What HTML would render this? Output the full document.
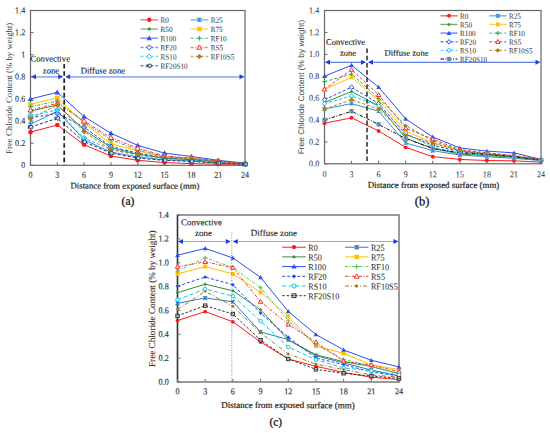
<!DOCTYPE html>
<html><head><meta charset="utf-8"><style>
html,body{margin:0;padding:0;background:#fff;}
body{width:550px;height:433px;overflow:hidden;}
svg{display:block;font-family:"Liberation Serif", serif;text-rendering:geometricPrecision;}
</style></head><body>
<svg width="550" height="433" viewBox="0 0 550 433" >
<rect width="550" height="433" fill="#fff"/>
<rect x="30.5" y="10.5" width="214.5" height="154.8" fill="none" stroke="#666" stroke-width="1.2"/>
<polyline points="30.5,132.13 57.31,124.94 84.12,144.73 110.94,156.01 137.75,160.32 164.56,162.54 191.38,163.64 218.19,164.19 245,164.19" fill="none" stroke="#ff1a1a" stroke-width="1.0"/>
<circle cx="30.5" cy="132.13" r="2.3" fill="#ff1a1a"/>
<circle cx="57.31" cy="124.94" r="2.3" fill="#ff1a1a"/>
<circle cx="84.12" cy="144.73" r="2.3" fill="#ff1a1a"/>
<circle cx="110.94" cy="156.01" r="2.3" fill="#ff1a1a"/>
<circle cx="137.75" cy="160.32" r="2.3" fill="#ff1a1a"/>
<circle cx="164.56" cy="162.54" r="2.3" fill="#ff1a1a"/>
<circle cx="191.38" cy="163.64" r="2.3" fill="#ff1a1a"/>
<circle cx="218.19" cy="164.19" r="2.3" fill="#ff1a1a"/>
<circle cx="245" cy="164.19" r="2.3" fill="#ff1a1a"/>
<polyline points="30.5,124.39 57.31,111.12 84.12,139.87 110.94,152.03 137.75,157.01 164.56,159.77 191.38,160.88 218.19,163.09 245,164.19" fill="none" stroke="#3a8ad2" stroke-width="1.0"/>
<path d="M28.3 122.19L32.7 126.59M32.7 122.19L28.3 126.59M30.5 122.19V126.59" stroke="#3a8ad2" stroke-width="1.1" fill="none"/>
<path d="M55.11 108.92L59.51 113.32M59.51 108.92L55.11 113.32M57.31 108.92V113.32" stroke="#3a8ad2" stroke-width="1.1" fill="none"/>
<path d="M81.92 137.67L86.33 142.07M86.33 137.67L81.92 142.07M84.12 137.67V142.07" stroke="#3a8ad2" stroke-width="1.1" fill="none"/>
<path d="M108.74 149.83L113.14 154.23M113.14 149.83L108.74 154.23M110.94 149.83V154.23" stroke="#3a8ad2" stroke-width="1.1" fill="none"/>
<path d="M135.55 154.81L139.95 159.21M139.95 154.81L135.55 159.21M137.75 154.81V159.21" stroke="#3a8ad2" stroke-width="1.1" fill="none"/>
<path d="M162.36 157.57L166.76 161.97M166.76 157.57L162.36 161.97M164.56 157.57V161.97" stroke="#3a8ad2" stroke-width="1.1" fill="none"/>
<path d="M189.18 158.68L193.57 163.08M193.57 158.68L189.18 163.08M191.38 158.68V163.08" stroke="#3a8ad2" stroke-width="1.1" fill="none"/>
<path d="M215.99 160.89L220.39 165.29M220.39 160.89L215.99 165.29M218.19 160.89V165.29" stroke="#3a8ad2" stroke-width="1.1" fill="none"/>
<path d="M242.8 161.99L247.2 166.39M247.2 161.99L242.8 166.39M245 161.99V166.39" stroke="#3a8ad2" stroke-width="1.1" fill="none"/>
<polyline points="30.5,111.12 57.31,105.04 84.12,129.92 110.94,147.61 137.75,154.24 164.56,158.11 191.38,159.77 218.19,161.98 245,163.97" fill="none" stroke="#3c8c3c" stroke-width="1.0"/>
<path d="M30.5 109.12L32.5 111.12L30.5 113.12L28.5 111.12Z" fill="#3c8c3c"/>
<path d="M57.31 103.04L59.31 105.04L57.31 107.04L55.31 105.04Z" fill="#3c8c3c"/>
<path d="M84.12 127.92L86.12 129.92L84.12 131.92L82.12 129.92Z" fill="#3c8c3c"/>
<path d="M110.94 145.61L112.94 147.61L110.94 149.61L108.94 147.61Z" fill="#3c8c3c"/>
<path d="M137.75 152.24L139.75 154.24L137.75 156.24L135.75 154.24Z" fill="#3c8c3c"/>
<path d="M164.56 156.11L166.56 158.11L164.56 160.11L162.56 158.11Z" fill="#3c8c3c"/>
<path d="M191.38 157.77L193.38 159.77L191.38 161.77L189.38 159.77Z" fill="#3c8c3c"/>
<path d="M218.19 159.98L220.19 161.98L218.19 163.98L216.19 161.98Z" fill="#3c8c3c"/>
<path d="M245 161.97L247 163.97L245 165.97L243 163.97Z" fill="#3c8c3c"/>
<polyline points="30.5,104.49 57.31,97.85 84.12,123.28 110.94,143.74 137.75,150.93 164.56,157.01 191.38,158.67 218.19,161.43 245,163.64" fill="none" stroke="#ffc000" stroke-width="1.0"/>
<rect x="28.2" y="102.19" width="4.6" height="4.6" fill="#ffc000"/>
<rect x="55.01" y="95.55" width="4.6" height="4.6" fill="#ffc000"/>
<rect x="81.83" y="120.98" width="4.6" height="4.6" fill="#ffc000"/>
<rect x="108.64" y="141.44" width="4.6" height="4.6" fill="#ffc000"/>
<rect x="135.45" y="148.63" width="4.6" height="4.6" fill="#ffc000"/>
<rect x="162.26" y="154.71" width="4.6" height="4.6" fill="#ffc000"/>
<rect x="189.07" y="156.37" width="4.6" height="4.6" fill="#ffc000"/>
<rect x="215.89" y="159.13" width="4.6" height="4.6" fill="#ffc000"/>
<rect x="242.7" y="161.34" width="4.6" height="4.6" fill="#ffc000"/>
<polyline points="30.5,98.96 57.31,92.32 84.12,116.65 110.94,133.23 137.75,145.4 164.56,153.14 191.38,156.45 218.19,160.32 245,163.09" fill="none" stroke="#2a52ee" stroke-width="1.0"/>
<path d="M30.5 96.16L33.3 101.06L27.7 101.06Z" fill="#2a52ee"/>
<path d="M57.31 89.52L60.11 94.42L54.51 94.42Z" fill="#2a52ee"/>
<path d="M84.12 113.85L86.92 118.75L81.33 118.75Z" fill="#2a52ee"/>
<path d="M110.94 130.43L113.74 135.33L108.14 135.33Z" fill="#2a52ee"/>
<path d="M137.75 142.6L140.55 147.5L134.95 147.5Z" fill="#2a52ee"/>
<path d="M164.56 150.34L167.36 155.24L161.76 155.24Z" fill="#2a52ee"/>
<path d="M191.38 153.65L194.18 158.55L188.57 158.55Z" fill="#2a52ee"/>
<path d="M218.19 157.52L220.99 162.42L215.39 162.42Z" fill="#2a52ee"/>
<path d="M245 160.29L247.8 165.19L242.2 165.19Z" fill="#2a52ee"/>
<polyline points="30.5,106.7 57.31,101.17 84.12,122.18 110.94,139.87 137.75,149.82 164.56,156.45 191.38,158.67 218.19,161.43 245,163.64" fill="none" stroke="#2eb04a" stroke-width="1.0" stroke-dasharray="3 1.5 1 1.5"/>
<path d="M28.1 106.7H32.9M30.5 104.3V109.1" stroke="#2eb04a" stroke-width="1.1" fill="none"/>
<path d="M54.91 101.17H59.71M57.31 98.77V103.57" stroke="#2eb04a" stroke-width="1.1" fill="none"/>
<path d="M81.72 122.18H86.53M84.12 119.78V124.58" stroke="#2eb04a" stroke-width="1.1" fill="none"/>
<path d="M108.54 139.87H113.34M110.94 137.47V142.27" stroke="#2eb04a" stroke-width="1.1" fill="none"/>
<path d="M135.35 149.82H140.15M137.75 147.42V152.22" stroke="#2eb04a" stroke-width="1.1" fill="none"/>
<path d="M162.16 156.45H166.96M164.56 154.05V158.85" stroke="#2eb04a" stroke-width="1.1" fill="none"/>
<path d="M188.97 158.67H193.78M191.38 156.27V161.07" stroke="#2eb04a" stroke-width="1.1" fill="none"/>
<path d="M215.79 161.43H220.59M218.19 159.03V163.83" stroke="#2eb04a" stroke-width="1.1" fill="none"/>
<path d="M242.6 163.64H247.4M245 161.24V166.04" stroke="#2eb04a" stroke-width="1.1" fill="none"/>
<polyline points="30.5,117.75 57.31,113.33 84.12,127.15 110.94,146.5 137.75,153.14 164.56,157.56 191.38,159.77 218.19,161.98 245,163.97" fill="none" stroke="#2446ee" stroke-width="1.0" stroke-dasharray="3 2"/>
<path d="M30.5 115.15L33.1 117.75L30.5 120.35L27.9 117.75Z" fill="#9aaaf6" stroke="#2446ee" stroke-width="1"/>
<path d="M57.31 110.73L59.91 113.33L57.31 115.93L54.71 113.33Z" fill="#9aaaf6" stroke="#2446ee" stroke-width="1"/>
<path d="M84.12 124.55L86.72 127.15L84.12 129.75L81.53 127.15Z" fill="#9aaaf6" stroke="#2446ee" stroke-width="1"/>
<path d="M110.94 143.9L113.54 146.5L110.94 149.1L108.34 146.5Z" fill="#9aaaf6" stroke="#2446ee" stroke-width="1"/>
<path d="M137.75 150.54L140.35 153.14L137.75 155.74L135.15 153.14Z" fill="#9aaaf6" stroke="#2446ee" stroke-width="1"/>
<path d="M164.56 154.96L167.16 157.56L164.56 160.16L161.96 157.56Z" fill="#9aaaf6" stroke="#2446ee" stroke-width="1"/>
<path d="M191.38 157.17L193.97 159.77L191.38 162.37L188.78 159.77Z" fill="#9aaaf6" stroke="#2446ee" stroke-width="1"/>
<path d="M218.19 159.38L220.79 161.98L218.19 164.58L215.59 161.98Z" fill="#9aaaf6" stroke="#2446ee" stroke-width="1"/>
<path d="M245 161.37L247.6 163.97L245 166.57L242.4 163.97Z" fill="#9aaaf6" stroke="#2446ee" stroke-width="1"/>
<polyline points="30.5,110.01 57.31,103.38 84.12,121.07 110.94,137.66 137.75,148.16 164.56,155.9 191.38,158.11 218.19,160.88 245,163.64" fill="none" stroke="#ff2a2a" stroke-width="1.0" stroke-dasharray="3 1.5 1 1.5"/>
<path d="M30.5 107.41L33.1 111.96L27.9 111.96Z" fill="#fff" stroke="#ff2a2a" stroke-width="1"/>
<path d="M57.31 100.78L59.91 105.33L54.71 105.33Z" fill="#fff" stroke="#ff2a2a" stroke-width="1"/>
<path d="M84.12 118.47L86.72 123.02L81.53 123.02Z" fill="#fff" stroke="#ff2a2a" stroke-width="1"/>
<path d="M110.94 135.06L113.54 139.61L108.34 139.61Z" fill="#fff" stroke="#ff2a2a" stroke-width="1"/>
<path d="M137.75 145.56L140.35 150.11L135.15 150.11Z" fill="#fff" stroke="#ff2a2a" stroke-width="1"/>
<path d="M164.56 153.3L167.16 157.85L161.96 157.85Z" fill="#fff" stroke="#ff2a2a" stroke-width="1"/>
<path d="M191.38 155.51L193.97 160.06L188.78 160.06Z" fill="#fff" stroke="#ff2a2a" stroke-width="1"/>
<path d="M218.19 158.28L220.79 162.83L215.59 162.83Z" fill="#fff" stroke="#ff2a2a" stroke-width="1"/>
<path d="M245 161.04L247.6 165.59L242.4 165.59Z" fill="#fff" stroke="#ff2a2a" stroke-width="1"/>
<polyline points="30.5,115.54 57.31,110.01 84.12,138.21 110.94,149.27 137.75,155.35 164.56,158.67 191.38,160.32 218.19,162.54 245,163.97" fill="none" stroke="#10c4f4" stroke-width="1.0" stroke-dasharray="3 2"/>
<path d="M30.5 112.84L33.2 115.54L30.5 118.24L27.8 115.54Z" fill="#50d0f4" stroke="#10c4f4" stroke-width="1"/>
<path d="M57.31 107.31L60.01 110.01L57.31 112.71L54.61 110.01Z" fill="#50d0f4" stroke="#10c4f4" stroke-width="1"/>
<path d="M84.12 135.51L86.83 138.21L84.12 140.91L81.42 138.21Z" fill="#50d0f4" stroke="#10c4f4" stroke-width="1"/>
<path d="M110.94 146.57L113.64 149.27L110.94 151.97L108.24 149.27Z" fill="#50d0f4" stroke="#10c4f4" stroke-width="1"/>
<path d="M137.75 152.65L140.45 155.35L137.75 158.05L135.05 155.35Z" fill="#50d0f4" stroke="#10c4f4" stroke-width="1"/>
<path d="M164.56 155.97L167.26 158.67L164.56 161.37L161.86 158.67Z" fill="#50d0f4" stroke="#10c4f4" stroke-width="1"/>
<path d="M191.38 157.62L194.07 160.32L191.38 163.02L188.68 160.32Z" fill="#50d0f4" stroke="#10c4f4" stroke-width="1"/>
<path d="M218.19 159.84L220.89 162.54L218.19 165.24L215.49 162.54Z" fill="#50d0f4" stroke="#10c4f4" stroke-width="1"/>
<path d="M245 161.27L247.7 163.97L245 166.67L242.3 163.97Z" fill="#50d0f4" stroke="#10c4f4" stroke-width="1"/>
<polyline points="30.5,118.86 57.31,105.04 84.12,131.58 110.94,149.82 137.75,154.24 164.56,157.56 191.38,158.33 218.19,161.98 245,163.64" fill="none" stroke="#b07d12" stroke-width="1.0" stroke-dasharray="3 2"/>
<path d="M30.5 116.06L33.3 118.86L30.5 121.66L27.7 118.86Z" fill="#b07d12"/>
<path d="M57.31 102.24L60.11 105.04L57.31 107.84L54.51 105.04Z" fill="#b07d12"/>
<path d="M84.12 128.78L86.92 131.58L84.12 134.38L81.33 131.58Z" fill="#b07d12"/>
<path d="M110.94 147.02L113.74 149.82L110.94 152.62L108.14 149.82Z" fill="#b07d12"/>
<path d="M137.75 151.44L140.55 154.24L137.75 157.04L134.95 154.24Z" fill="#b07d12"/>
<path d="M164.56 154.76L167.36 157.56L164.56 160.36L161.76 157.56Z" fill="#b07d12"/>
<path d="M191.38 155.53L194.18 158.33L191.38 161.13L188.57 158.33Z" fill="#b07d12"/>
<path d="M218.19 159.18L220.99 161.98L218.19 164.78L215.39 161.98Z" fill="#b07d12"/>
<path d="M245 160.84L247.8 163.64L245 166.44L242.2 163.64Z" fill="#b07d12"/>
<polyline points="30.5,127.15 57.31,118.31 84.12,141.75 110.94,153.14 137.75,158.11 164.56,160.32 191.38,161.43 218.19,163.09 245,164.19" fill="none" stroke="#22386e" stroke-width="1.0" stroke-dasharray="3 2"/>
<circle cx="31.1" cy="127.15" r="1.9" fill="#c8d4f0" stroke="#22386e" stroke-width="0.9"/><path d="M28.3 125.25V129.05M28.3 127.15H29.3" stroke="#22386e" stroke-width="0.9" fill="none"/>
<circle cx="57.91" cy="118.31" r="1.9" fill="#c8d4f0" stroke="#22386e" stroke-width="0.9"/><path d="M55.11 116.41V120.21M55.11 118.31H56.11" stroke="#22386e" stroke-width="0.9" fill="none"/>
<circle cx="84.72" cy="141.75" r="1.9" fill="#c8d4f0" stroke="#22386e" stroke-width="0.9"/><path d="M81.92 139.85V143.65M81.92 141.75H82.92" stroke="#22386e" stroke-width="0.9" fill="none"/>
<circle cx="111.54" cy="153.14" r="1.9" fill="#c8d4f0" stroke="#22386e" stroke-width="0.9"/><path d="M108.74 151.24V155.04M108.74 153.14H109.74" stroke="#22386e" stroke-width="0.9" fill="none"/>
<circle cx="138.35" cy="158.11" r="1.9" fill="#c8d4f0" stroke="#22386e" stroke-width="0.9"/><path d="M135.55 156.21V160.01M135.55 158.11H136.55" stroke="#22386e" stroke-width="0.9" fill="none"/>
<circle cx="165.16" cy="160.32" r="1.9" fill="#c8d4f0" stroke="#22386e" stroke-width="0.9"/><path d="M162.36 158.42V162.22M162.36 160.32H163.36" stroke="#22386e" stroke-width="0.9" fill="none"/>
<circle cx="191.97" cy="161.43" r="1.9" fill="#c8d4f0" stroke="#22386e" stroke-width="0.9"/><path d="M189.18 159.53V163.33M189.18 161.43H190.18" stroke="#22386e" stroke-width="0.9" fill="none"/>
<circle cx="218.79" cy="163.09" r="1.9" fill="#c8d4f0" stroke="#22386e" stroke-width="0.9"/><path d="M215.99 161.19V164.99M215.99 163.09H216.99" stroke="#22386e" stroke-width="0.9" fill="none"/>
<circle cx="245.6" cy="164.19" r="1.9" fill="#c8d4f0" stroke="#22386e" stroke-width="0.9"/><path d="M242.8 162.29V166.09M242.8 164.19H243.8" stroke="#22386e" stroke-width="0.9" fill="none"/>
<path d="M30.5 165.3h3M30.5 143.19h3M30.5 121.07h3M30.5 98.96h3M30.5 76.84h3M30.5 54.73h3M30.5 32.61h3M30.5 10.5h3M30.5 165.3v-3M57.31 165.3v-3M84.12 165.3v-3M110.94 165.3v-3M137.75 165.3v-3M164.56 165.3v-3M191.38 165.3v-3M218.19 165.3v-3M245 165.3v-3" stroke="#666" stroke-width="1" fill="none"/>
<g font-size="8.1" fill="#333" stroke="#333" stroke-width="0.1"><text transform="matrix(1,0.002,0.004,1.1,25.2,165.3)" text-anchor="end" dominant-baseline="central">0</text><text transform="matrix(1,0.002,0.004,1.1,25.2,143.19)" text-anchor="end" dominant-baseline="central">0.2</text><text transform="matrix(1,0.002,0.004,1.1,25.2,121.07)" text-anchor="end" dominant-baseline="central">0.4</text><text transform="matrix(1,0.002,0.004,1.1,25.2,98.96)" text-anchor="end" dominant-baseline="central">0.6</text><text transform="matrix(1,0.002,0.004,1.1,25.2,76.84)" text-anchor="end" dominant-baseline="central">0.8</text><text transform="matrix(1,0.002,0.004,1.1,25.2,54.73)" text-anchor="end" dominant-baseline="central">1</text><text transform="matrix(1,0.002,0.004,1.1,25.2,32.61)" text-anchor="end" dominant-baseline="central">1.2</text><text transform="matrix(1,0.002,0.004,1.1,25.2,10.5)" text-anchor="end" dominant-baseline="central">1.4</text><text transform="matrix(1,0.002,0.004,1.1,30.5,175.1)" text-anchor="middle" dominant-baseline="central">0</text><text transform="matrix(1,0.002,0.004,1.1,57.31,175.1)" text-anchor="middle" dominant-baseline="central">3</text><text transform="matrix(1,0.002,0.004,1.1,84.12,175.1)" text-anchor="middle" dominant-baseline="central">6</text><text transform="matrix(1,0.002,0.004,1.1,110.94,175.1)" text-anchor="middle" dominant-baseline="central">9</text><text transform="matrix(1,0.002,0.004,1.1,137.75,175.1)" text-anchor="middle" dominant-baseline="central">12</text><text transform="matrix(1,0.002,0.004,1.1,164.56,175.1)" text-anchor="middle" dominant-baseline="central">15</text><text transform="matrix(1,0.002,0.004,1.1,191.38,175.1)" text-anchor="middle" dominant-baseline="central">18</text><text transform="matrix(1,0.002,0.004,1.1,218.19,175.1)" text-anchor="middle" dominant-baseline="central">21</text><text transform="matrix(1,0.002,0.004,1.1,245,175.1)" text-anchor="middle" dominant-baseline="central">24</text></g>
<text transform="translate(11.8,88.3) rotate(-90) skewX(0.25)" text-anchor="middle" font-size="8.8" fill="#3a3a3a" stroke="#3a3a3a" stroke-width="0">Free Chloride Content (% by weight)</text>
<text transform="matrix(1,0.002,0.004,1,135,188.7)" text-anchor="middle" font-size="8.7" fill="#222" stroke="#222" stroke-width="0.2">Distance from exposed surface (mm)</text>
<text transform="matrix(1,0.002,0.004,1,128,204.7)" text-anchor="middle" font-size="11.6" fill="#111" stroke="#111" stroke-width="0.28">(a)</text>
<line x1="64.2" y1="64" x2="64.2" y2="165.3" stroke="#222" stroke-width="1.7" stroke-dasharray="4.6 2.6"/>
<path d="M35.5 76.8H58.2M70.2 76.8H240" stroke="#9bb2f2" stroke-width="1.8" fill="none"/>
<path d="M31 76.8l5 -2.5v5ZM63.2 76.8l-5 -2.5v5ZM65.2 76.8l5 -2.5v5ZM244.5 76.8l-5 -2.5v5Z" fill="#1a3ce0"/>
<g font-size="8.7" fill="#222" stroke="#222" stroke-width="0.12" text-anchor="middle"><text transform="matrix(1,0.002,0.004,1,50.2,61.5)">Convective</text><text transform="matrix(1,0.002,0.004,1,51,73.5)">zone</text><text transform="matrix(1,0.002,0.004,1,102.9,73.5)">Diffuse zone</text></g>
<line x1="140.5" y1="19.8" x2="158" y2="19.8" stroke="#ff1a1a" stroke-width="1.5" stroke-opacity="0.6"/><circle cx="149.25" cy="19.8" r="2.18" fill="#ff1a1a"/><text transform="matrix(1,0.002,0.004,1.1,160.5,20.55)" dominant-baseline="central" font-size="7.2" fill="#333" stroke="#333" stroke-width="0">R0</text><line x1="140.5" y1="29" x2="158" y2="29" stroke="#3c8c3c" stroke-width="1.5" stroke-opacity="0.6"/><path d="M149.25 27.1L151.15 29L149.25 30.9L147.35 29Z" fill="#3c8c3c"/><text transform="matrix(1,0.002,0.004,1.1,160.5,29.75)" dominant-baseline="central" font-size="7.2" fill="#333" stroke="#333" stroke-width="0">R50</text><line x1="140.5" y1="38.2" x2="158" y2="38.2" stroke="#2a52ee" stroke-width="1.5" stroke-opacity="0.6"/><path d="M149.25 35.54L151.91 40.2L146.59 40.2Z" fill="#2a52ee"/><text transform="matrix(1,0.002,0.004,1.1,160.5,38.95)" dominant-baseline="central" font-size="7.2" fill="#333" stroke="#333" stroke-width="0">R100</text><line x1="140.5" y1="47.4" x2="158" y2="47.4" stroke="#2446ee" stroke-width="1.5" stroke-opacity="0.6" stroke-dasharray="3 2"/><path d="M149.25 44.93L151.72 47.4L149.25 49.87L146.78 47.4Z" fill="#fff" stroke="#2446ee" stroke-width="1"/><text transform="matrix(1,0.002,0.004,1.1,160.5,48.15)" dominant-baseline="central" font-size="7.2" fill="#333" stroke="#333" stroke-width="0">RF20</text><line x1="140.5" y1="56.6" x2="158" y2="56.6" stroke="#10c4f4" stroke-width="1.5" stroke-opacity="0.6" stroke-dasharray="3 2"/><path d="M149.25 54.13L151.72 56.6L149.25 59.07L146.78 56.6Z" fill="#fff" stroke="#10c4f4" stroke-width="1"/><text transform="matrix(1,0.002,0.004,1.1,160.5,57.35)" dominant-baseline="central" font-size="7.2" fill="#333" stroke="#333" stroke-width="0">RS10</text><line x1="140.5" y1="65.8" x2="158" y2="65.8" stroke="#22386e" stroke-width="1.5" stroke-opacity="0.6" stroke-dasharray="3 2"/><circle cx="149.85" cy="65.8" r="1.8" fill="#c8d4f0" stroke="#22386e" stroke-width="0.9"/><path d="M147.16 63.99V67.61M147.16 65.8H148.11" stroke="#22386e" stroke-width="0.9" fill="none"/><text transform="matrix(1,0.002,0.004,1.1,160.5,66.55)" dominant-baseline="central" font-size="7.2" fill="#333" stroke="#333" stroke-width="0">RF20S10</text><line x1="190.7" y1="19.8" x2="208.2" y2="19.8" stroke="#3a8ad2" stroke-width="1.5" stroke-opacity="0.6"/><path d="M197.36 17.71L201.54 21.89M201.54 17.71L197.36 21.89M199.45 17.71V21.89" stroke="#3a8ad2" stroke-width="1.1" fill="none"/><text transform="matrix(1,0.002,0.004,1.1,210.7,20.55)" dominant-baseline="central" font-size="7.2" fill="#333" stroke="#333" stroke-width="0">R25</text><line x1="190.7" y1="29" x2="208.2" y2="29" stroke="#ffc000" stroke-width="1.5" stroke-opacity="0.6"/><rect x="197.26" y="26.82" width="4.37" height="4.37" fill="#ffc000"/><text transform="matrix(1,0.002,0.004,1.1,210.7,29.75)" dominant-baseline="central" font-size="7.2" fill="#333" stroke="#333" stroke-width="0">R75</text><line x1="190.7" y1="38.2" x2="208.2" y2="38.2" stroke="#2eb04a" stroke-width="1.5" stroke-opacity="0.6" stroke-dasharray="3 1.5 1 1.5"/><path d="M197.17 38.2H201.73M199.45 35.92V40.48" stroke="#2eb04a" stroke-width="1.1" fill="none"/><text transform="matrix(1,0.002,0.004,1.1,210.7,38.95)" dominant-baseline="central" font-size="7.2" fill="#333" stroke="#333" stroke-width="0">RF10</text><line x1="190.7" y1="47.4" x2="208.2" y2="47.4" stroke="#ff2a2a" stroke-width="1.5" stroke-opacity="0.6" stroke-dasharray="3 1.5 1 1.5"/><path d="M199.45 44.93L201.92 49.25L196.98 49.25Z" fill="#fff" stroke="#ff2a2a" stroke-width="1"/><text transform="matrix(1,0.002,0.004,1.1,210.7,48.15)" dominant-baseline="central" font-size="7.2" fill="#333" stroke="#333" stroke-width="0">RS5</text><line x1="190.7" y1="56.6" x2="208.2" y2="56.6" stroke="#b07d12" stroke-width="1.5" stroke-opacity="0.6" stroke-dasharray="3 2"/><path d="M199.45 53.94L202.11 56.6L199.45 59.26L196.79 56.6Z" fill="#b07d12"/><text transform="matrix(1,0.002,0.004,1.1,210.7,57.35)" dominant-baseline="central" font-size="7.2" fill="#333" stroke="#333" stroke-width="0">RF10S5</text>
<rect x="324.5" y="10.5" width="216.5" height="153.3" fill="none" stroke="#666" stroke-width="1.2"/>
<polyline points="324.5,123.28 351.56,117.81 378.62,130.95 405.69,147.38 432.75,156.68 459.81,159.42 486.88,160.52 513.94,160.84 541,162.16" fill="none" stroke="#ff1a1a" stroke-width="1.0"/>
<circle cx="324.5" cy="123.28" r="1.95" fill="#ff1a1a"/>
<circle cx="351.56" cy="117.81" r="1.95" fill="#ff1a1a"/>
<circle cx="378.62" cy="130.95" r="1.95" fill="#ff1a1a"/>
<circle cx="405.69" cy="147.38" r="1.95" fill="#ff1a1a"/>
<circle cx="432.75" cy="156.68" r="1.95" fill="#ff1a1a"/>
<circle cx="459.81" cy="159.42" r="1.95" fill="#ff1a1a"/>
<circle cx="486.88" cy="160.52" r="1.95" fill="#ff1a1a"/>
<circle cx="513.94" cy="160.84" r="1.95" fill="#ff1a1a"/>
<circle cx="541" cy="162.16" r="1.95" fill="#ff1a1a"/>
<polyline points="324.5,109.05 351.56,103.57 378.62,111.24 405.69,143 432.75,150.66 459.81,155.04 486.88,156.68 513.94,158.33 541,160.52" fill="none" stroke="#3a8ad2" stroke-width="1.0"/>
<path d="M322.63 107.18L326.37 110.92M326.37 107.18L322.63 110.92M324.5 107.18V110.92" stroke="#3a8ad2" stroke-width="1.1" fill="none"/>
<path d="M349.69 101.7L353.43 105.44M353.43 101.7L349.69 105.44M351.56 101.7V105.44" stroke="#3a8ad2" stroke-width="1.1" fill="none"/>
<path d="M376.75 109.37L380.5 113.11M380.5 109.37L376.75 113.11M378.62 109.37V113.11" stroke="#3a8ad2" stroke-width="1.1" fill="none"/>
<path d="M403.82 141.12L407.56 144.87M407.56 141.12L403.82 144.87M405.69 141.12V144.87" stroke="#3a8ad2" stroke-width="1.1" fill="none"/>
<path d="M430.88 148.79L434.62 152.53M434.62 148.79L430.88 152.53M432.75 148.79V152.53" stroke="#3a8ad2" stroke-width="1.1" fill="none"/>
<path d="M457.94 153.17L461.68 156.91M461.68 153.17L457.94 156.91M459.81 153.17V156.91" stroke="#3a8ad2" stroke-width="1.1" fill="none"/>
<path d="M485 154.81L488.75 158.55M488.75 154.81L485 158.55M486.88 154.81V158.55" stroke="#3a8ad2" stroke-width="1.1" fill="none"/>
<path d="M512.07 156.46L515.81 160.2M515.81 156.46L512.07 160.2M513.94 156.46V160.2" stroke="#3a8ad2" stroke-width="1.1" fill="none"/>
<path d="M539.13 158.65L542.87 162.39M542.87 158.65L539.13 162.39M541 158.65V162.39" stroke="#3a8ad2" stroke-width="1.1" fill="none"/>
<polyline points="324.5,102.48 351.56,91.53 378.62,105.77 405.69,138.07 432.75,148.47 459.81,153.95 486.88,155.59 513.94,157.23 541,160.52" fill="none" stroke="#3c8c3c" stroke-width="1.0"/>
<path d="M324.5 100.78L326.2 102.48L324.5 104.18L322.8 102.48Z" fill="#3c8c3c"/>
<path d="M351.56 89.83L353.26 91.53L351.56 93.23L349.86 91.53Z" fill="#3c8c3c"/>
<path d="M378.62 104.06L380.32 105.77L378.62 107.47L376.93 105.77Z" fill="#3c8c3c"/>
<path d="M405.69 136.37L407.39 138.07L405.69 139.77L403.99 138.07Z" fill="#3c8c3c"/>
<path d="M432.75 146.77L434.45 148.47L432.75 150.17L431.05 148.47Z" fill="#3c8c3c"/>
<path d="M459.81 152.25L461.51 153.95L459.81 155.65L458.11 153.95Z" fill="#3c8c3c"/>
<path d="M486.88 153.89L488.57 155.59L486.88 157.29L485.18 155.59Z" fill="#3c8c3c"/>
<path d="M513.94 155.53L515.64 157.23L513.94 158.93L512.24 157.23Z" fill="#3c8c3c"/>
<path d="M541 158.82L542.7 160.52L541 162.22L539.3 160.52Z" fill="#3c8c3c"/>
<polyline points="324.5,89.34 351.56,77.3 378.62,100.29 405.69,130.95 432.75,143 459.81,150.66 486.88,153.95 513.94,156.14 541,159.97" fill="none" stroke="#ffc000" stroke-width="1.0"/>
<rect x="322.55" y="87.39" width="3.91" height="3.91" fill="#ffc000"/>
<rect x="349.61" y="75.34" width="3.91" height="3.91" fill="#ffc000"/>
<rect x="376.67" y="98.34" width="3.91" height="3.91" fill="#ffc000"/>
<rect x="403.73" y="129" width="3.91" height="3.91" fill="#ffc000"/>
<rect x="430.8" y="141.04" width="3.91" height="3.91" fill="#ffc000"/>
<rect x="457.86" y="148.71" width="3.91" height="3.91" fill="#ffc000"/>
<rect x="484.92" y="151.99" width="3.91" height="3.91" fill="#ffc000"/>
<rect x="511.98" y="154.18" width="3.91" height="3.91" fill="#ffc000"/>
<rect x="539.04" y="158.01" width="3.91" height="3.91" fill="#ffc000"/>
<polyline points="324.5,76.2 351.56,65.25 378.62,87.15 405.69,118.91 432.75,136.97 459.81,147.92 486.88,151.1 513.94,152.85 541,159.42" fill="none" stroke="#2a52ee" stroke-width="1.0"/>
<path d="M324.5 73.82L326.88 77.98L322.12 77.98Z" fill="#2a52ee"/>
<path d="M351.56 62.87L353.94 67.03L349.18 67.03Z" fill="#2a52ee"/>
<path d="M378.62 84.77L381 88.94L376.25 88.94Z" fill="#2a52ee"/>
<path d="M405.69 116.53L408.07 120.69L403.31 120.69Z" fill="#2a52ee"/>
<path d="M432.75 134.59L435.13 138.76L430.37 138.76Z" fill="#2a52ee"/>
<path d="M459.81 145.54L462.19 149.71L457.43 149.71Z" fill="#2a52ee"/>
<path d="M486.88 148.72L489.25 152.88L484.5 152.88Z" fill="#2a52ee"/>
<path d="M513.94 150.47L516.32 154.64L511.56 154.64Z" fill="#2a52ee"/>
<path d="M541 157.04L543.38 161.21L538.62 161.21Z" fill="#2a52ee"/>
<polyline points="324.5,81.67 351.56,74.01 378.62,98.1 405.69,125.48 432.75,140.81 459.81,150.66 486.88,153.4 513.94,156.14 541,159.97" fill="none" stroke="#2eb04a" stroke-width="1.0" stroke-dasharray="3 2"/>
<path d="M322.46 81.67H326.54M324.5 79.63V83.72" stroke="#2eb04a" stroke-width="1.1" fill="none"/>
<path d="M349.52 74.01H353.6M351.56 71.97V76.05" stroke="#2eb04a" stroke-width="1.1" fill="none"/>
<path d="M376.58 98.1H380.67M378.62 96.06V100.14" stroke="#2eb04a" stroke-width="1.1" fill="none"/>
<path d="M403.65 125.48H407.73M405.69 123.44V127.52" stroke="#2eb04a" stroke-width="1.1" fill="none"/>
<path d="M430.71 140.81H434.79M432.75 138.77V142.84" stroke="#2eb04a" stroke-width="1.1" fill="none"/>
<path d="M457.77 150.66H461.85M459.81 148.62V152.7" stroke="#2eb04a" stroke-width="1.1" fill="none"/>
<path d="M484.83 153.4H488.92M486.88 151.36V155.44" stroke="#2eb04a" stroke-width="1.1" fill="none"/>
<path d="M511.9 156.14H515.98M513.94 154.1V158.18" stroke="#2eb04a" stroke-width="1.1" fill="none"/>
<path d="M538.96 159.97H543.04M541 157.93V162.01" stroke="#2eb04a" stroke-width="1.1" fill="none"/>
<polyline points="324.5,99.74 351.56,87.15 378.62,103.57 405.69,134.24 432.75,145.19 459.81,151.75 486.88,153.95 513.94,156.68 541,159.97" fill="none" stroke="#2446ee" stroke-width="1.0" stroke-dasharray="3 2"/>
<path d="M324.5 97.53L326.71 99.74L324.5 101.95L322.29 99.74Z" fill="#fff" stroke="#2446ee" stroke-width="1"/>
<path d="M351.56 84.94L353.77 87.15L351.56 89.36L349.35 87.15Z" fill="#fff" stroke="#2446ee" stroke-width="1"/>
<path d="M378.62 101.36L380.83 103.57L378.62 105.78L376.42 103.57Z" fill="#fff" stroke="#2446ee" stroke-width="1"/>
<path d="M405.69 132.03L407.9 134.24L405.69 136.45L403.48 134.24Z" fill="#fff" stroke="#2446ee" stroke-width="1"/>
<path d="M432.75 142.97L434.96 145.19L432.75 147.4L430.54 145.19Z" fill="#fff" stroke="#2446ee" stroke-width="1"/>
<path d="M459.81 149.54L462.02 151.75L459.81 153.97L457.6 151.75Z" fill="#fff" stroke="#2446ee" stroke-width="1"/>
<path d="M486.88 151.74L489.08 153.95L486.88 156.16L484.67 153.95Z" fill="#fff" stroke="#2446ee" stroke-width="1"/>
<path d="M513.94 154.47L516.15 156.68L513.94 158.89L511.73 156.68Z" fill="#fff" stroke="#2446ee" stroke-width="1"/>
<path d="M541 157.76L543.21 159.97L541 162.18L538.79 159.97Z" fill="#fff" stroke="#2446ee" stroke-width="1"/>
<polyline points="324.5,89.34 351.56,69.63 378.62,94.81 405.69,128.21 432.75,139.16 459.81,149.56 486.88,152.85 513.94,155.59 541,159.42" fill="none" stroke="#ff2a2a" stroke-width="1.0" stroke-dasharray="3 2"/>
<path d="M324.5 87.13L326.71 91L322.29 91Z" fill="#fff" stroke="#ff2a2a" stroke-width="1"/>
<path d="M351.56 67.42L353.77 71.29L349.35 71.29Z" fill="#fff" stroke="#ff2a2a" stroke-width="1"/>
<path d="M378.62 92.61L380.83 96.47L376.42 96.47Z" fill="#fff" stroke="#ff2a2a" stroke-width="1"/>
<path d="M405.69 126L407.9 129.87L403.48 129.87Z" fill="#fff" stroke="#ff2a2a" stroke-width="1"/>
<path d="M432.75 136.95L434.96 140.82L430.54 140.82Z" fill="#fff" stroke="#ff2a2a" stroke-width="1"/>
<path d="M459.81 147.35L462.02 151.22L457.6 151.22Z" fill="#fff" stroke="#ff2a2a" stroke-width="1"/>
<path d="M486.88 150.64L489.08 154.51L484.67 154.51Z" fill="#fff" stroke="#ff2a2a" stroke-width="1"/>
<path d="M513.94 153.38L516.15 157.25L511.73 157.25Z" fill="#fff" stroke="#ff2a2a" stroke-width="1"/>
<path d="M541 157.21L543.21 161.08L538.79 161.08Z" fill="#fff" stroke="#ff2a2a" stroke-width="1"/>
<polyline points="324.5,103.57 351.56,95.91 378.62,105.77 405.69,133.14 432.75,147.38 459.81,152.85 486.88,155.04 513.94,157.23 541,160.52" fill="none" stroke="#10c4f4" stroke-width="1.0" stroke-dasharray="3 2"/>
<circle cx="324.5" cy="103.57" r="1.78" fill="#fff" stroke="#10c4f4" stroke-width="1"/>
<circle cx="351.56" cy="95.91" r="1.78" fill="#fff" stroke="#10c4f4" stroke-width="1"/>
<circle cx="378.62" cy="105.77" r="1.78" fill="#fff" stroke="#10c4f4" stroke-width="1"/>
<circle cx="405.69" cy="133.14" r="1.78" fill="#fff" stroke="#10c4f4" stroke-width="1"/>
<circle cx="432.75" cy="147.38" r="1.78" fill="#fff" stroke="#10c4f4" stroke-width="1"/>
<circle cx="459.81" cy="152.85" r="1.78" fill="#fff" stroke="#10c4f4" stroke-width="1"/>
<circle cx="486.88" cy="155.04" r="1.78" fill="#fff" stroke="#10c4f4" stroke-width="1"/>
<circle cx="513.94" cy="157.23" r="1.78" fill="#fff" stroke="#10c4f4" stroke-width="1"/>
<circle cx="541" cy="160.52" r="1.78" fill="#fff" stroke="#10c4f4" stroke-width="1"/>
<polyline points="324.5,109.05 351.56,99.74 378.62,109.05 405.69,135.33 432.75,143 459.81,150.66 486.88,154.38 513.94,156.57 541,159.42" fill="none" stroke="#b07d12" stroke-width="1.0" stroke-dasharray="3 2"/>
<path d="M324.5 106.67L326.88 109.05L324.5 111.43L322.12 109.05Z" fill="#b07d12"/>
<path d="M351.56 97.36L353.94 99.74L351.56 102.12L349.18 99.74Z" fill="#b07d12"/>
<path d="M378.62 106.67L381 109.05L378.62 111.43L376.25 109.05Z" fill="#b07d12"/>
<path d="M405.69 132.95L408.07 135.33L405.69 137.71L403.31 135.33Z" fill="#b07d12"/>
<path d="M432.75 140.62L435.13 143L432.75 145.38L430.37 143Z" fill="#b07d12"/>
<path d="M459.81 148.28L462.19 150.66L459.81 153.04L457.43 150.66Z" fill="#b07d12"/>
<path d="M486.88 152L489.25 154.38L486.88 156.76L484.5 154.38Z" fill="#b07d12"/>
<path d="M513.94 154.19L516.32 156.57L513.94 158.95L511.56 156.57Z" fill="#b07d12"/>
<path d="M541 157.04L543.38 159.42L541 161.8L538.62 159.42Z" fill="#b07d12"/>
<polyline points="324.5,120 351.56,111.24 378.62,124.38 405.69,138.62 432.75,148.47 459.81,152.85 486.88,154.49 513.94,156.68 541,159.97" fill="none" stroke="#111" stroke-width="1.0" stroke-dasharray="3.5 1.5 1 1.5"/>
<rect x="322.8" y="118.3" width="3.4" height="3.4" fill="#fff" stroke="#5aa0d0" stroke-width="1"/><path d="M325.4 118.9H323.6V120H325.4V121.1H323.6" stroke="#333" stroke-width="0.7" fill="none"/>
<rect x="349.86" y="109.54" width="3.4" height="3.4" fill="#fff" stroke="#5aa0d0" stroke-width="1"/><path d="M352.46 110.14H350.66V111.24H352.46V112.34H350.66" stroke="#333" stroke-width="0.7" fill="none"/>
<rect x="376.93" y="122.68" width="3.4" height="3.4" fill="#fff" stroke="#5aa0d0" stroke-width="1"/><path d="M379.52 123.28H377.73V124.38H379.52V125.48H377.73" stroke="#333" stroke-width="0.7" fill="none"/>
<rect x="403.99" y="136.92" width="3.4" height="3.4" fill="#fff" stroke="#5aa0d0" stroke-width="1"/><path d="M406.59 137.52H404.79V138.62H406.59V139.72H404.79" stroke="#333" stroke-width="0.7" fill="none"/>
<rect x="431.05" y="146.77" width="3.4" height="3.4" fill="#fff" stroke="#5aa0d0" stroke-width="1"/><path d="M433.65 147.37H431.85V148.47H433.65V149.57H431.85" stroke="#333" stroke-width="0.7" fill="none"/>
<rect x="458.11" y="151.15" width="3.4" height="3.4" fill="#fff" stroke="#5aa0d0" stroke-width="1"/><path d="M460.71 151.75H458.91V152.85H460.71V153.95H458.91" stroke="#333" stroke-width="0.7" fill="none"/>
<rect x="485.18" y="152.79" width="3.4" height="3.4" fill="#fff" stroke="#5aa0d0" stroke-width="1"/><path d="M487.77 153.39H485.98V154.49H487.77V155.59H485.98" stroke="#333" stroke-width="0.7" fill="none"/>
<rect x="512.24" y="154.98" width="3.4" height="3.4" fill="#fff" stroke="#5aa0d0" stroke-width="1"/><path d="M514.84 155.58H513.04V156.68H514.84V157.78H513.04" stroke="#333" stroke-width="0.7" fill="none"/>
<rect x="539.3" y="158.27" width="3.4" height="3.4" fill="#fff" stroke="#5aa0d0" stroke-width="1"/><path d="M541.9 158.87H540.1V159.97H541.9V161.07H540.1" stroke="#333" stroke-width="0.7" fill="none"/>
<path d="M324.5 163.8h3M324.5 141.9h3M324.5 120h3M324.5 98.1h3M324.5 76.2h3M324.5 54.3h3M324.5 32.4h3M324.5 10.5h3M324.5 163.8v-3M351.56 163.8v-3M378.62 163.8v-3M405.69 163.8v-3M432.75 163.8v-3M459.81 163.8v-3M486.88 163.8v-3M513.94 163.8v-3M541 163.8v-3" stroke="#666" stroke-width="1" fill="none"/>
<g font-size="8.1" fill="#333" stroke="#333" stroke-width="0.04"><text transform="matrix(1,0.002,0.004,1.1,319.2,163.8)" text-anchor="end" dominant-baseline="central">0.0</text><text transform="matrix(1,0.002,0.004,1.1,319.2,141.9)" text-anchor="end" dominant-baseline="central">0.2</text><text transform="matrix(1,0.002,0.004,1.1,319.2,120)" text-anchor="end" dominant-baseline="central">0.4</text><text transform="matrix(1,0.002,0.004,1.1,319.2,98.1)" text-anchor="end" dominant-baseline="central">0.6</text><text transform="matrix(1,0.002,0.004,1.1,319.2,76.2)" text-anchor="end" dominant-baseline="central">0.8</text><text transform="matrix(1,0.002,0.004,1.1,319.2,54.3)" text-anchor="end" dominant-baseline="central">1.0</text><text transform="matrix(1,0.002,0.004,1.1,319.2,32.4)" text-anchor="end" dominant-baseline="central">1.2</text><text transform="matrix(1,0.002,0.004,1.1,319.2,10.5)" text-anchor="end" dominant-baseline="central">1.4</text><text transform="matrix(1,0.002,0.004,1.1,324.5,174.4)" text-anchor="middle" dominant-baseline="central">0</text><text transform="matrix(1,0.002,0.004,1.1,351.56,174.4)" text-anchor="middle" dominant-baseline="central">3</text><text transform="matrix(1,0.002,0.004,1.1,378.62,174.4)" text-anchor="middle" dominant-baseline="central">6</text><text transform="matrix(1,0.002,0.004,1.1,405.69,174.4)" text-anchor="middle" dominant-baseline="central">9</text><text transform="matrix(1,0.002,0.004,1.1,432.75,174.4)" text-anchor="middle" dominant-baseline="central">12</text><text transform="matrix(1,0.002,0.004,1.1,459.81,174.4)" text-anchor="middle" dominant-baseline="central">15</text><text transform="matrix(1,0.002,0.004,1.1,486.88,174.4)" text-anchor="middle" dominant-baseline="central">18</text><text transform="matrix(1,0.002,0.004,1.1,513.94,174.4)" text-anchor="middle" dominant-baseline="central">21</text><text transform="matrix(1,0.002,0.004,1.1,541,174.4)" text-anchor="middle" dominant-baseline="central">24</text></g>
<text transform="translate(303.9,87.05) rotate(-90) skewX(0.25)" text-anchor="middle" font-size="8.32" fill="#444" stroke="#444" stroke-width="0" font-family="Liberation Sans, sans-serif">Free Chloride Content (% by weight)</text>
<text transform="matrix(1,0.002,0.004,1,433.5,188)" text-anchor="middle" font-size="8.9" fill="#222" stroke="#222" stroke-width="0.2">Distance from exposed surface (mm)</text>
<text transform="matrix(1,0.002,0.004,1,422,205.3)" text-anchor="middle" font-size="12.5" fill="#111" stroke="#111" stroke-width="0.28">(b)</text>
<line x1="367" y1="48.5" x2="367" y2="163.8" stroke="#333" stroke-width="1.6" stroke-dasharray="4.6 2.6"/>
<path d="M329.5 62.3H361M373 62.3H536" stroke="#3a5ce8" stroke-width="1.1" fill="none"/>
<path d="M325 62.3l5 -2.5v5ZM366 62.3l-5 -2.5v5ZM368 62.3l5 -2.5v5ZM540.5 62.3l-5 -2.5v5Z" fill="#1a3ce0"/>
<g font-size="8.6" fill="#222" stroke="#222" stroke-width="0.12" text-anchor="middle"><text transform="matrix(1,0.002,0.004,1,345.6,44.8)">Convective</text><text transform="matrix(1,0.002,0.004,1,348,55.8)">zone</text><text transform="matrix(1,0.002,0.004,1,406.5,55.8)">Diffuse zone</text></g>
<line x1="440.5" y1="15.8" x2="457.5" y2="15.8" stroke="#ff1a1a" stroke-width="1.4" stroke-opacity="0.7"/><circle cx="449" cy="15.8" r="1.95" fill="#ff1a1a"/><text transform="matrix(1,0.002,0.004,1.1,460,16.55)" dominant-baseline="central" font-size="7.2" fill="#333" stroke="#333" stroke-width="0">R0</text><line x1="440.5" y1="24.45" x2="457.5" y2="24.45" stroke="#3c8c3c" stroke-width="1.4" stroke-opacity="0.7"/><path d="M449 22.75L450.7 24.45L449 26.15L447.3 24.45Z" fill="#3c8c3c"/><text transform="matrix(1,0.002,0.004,1.1,460,25.2)" dominant-baseline="central" font-size="7.2" fill="#333" stroke="#333" stroke-width="0">R50</text><line x1="440.5" y1="33.1" x2="457.5" y2="33.1" stroke="#2a52ee" stroke-width="1.4" stroke-opacity="0.7"/><path d="M449 30.72L451.38 34.88L446.62 34.88Z" fill="#2a52ee"/><text transform="matrix(1,0.002,0.004,1.1,460,33.85)" dominant-baseline="central" font-size="7.2" fill="#333" stroke="#333" stroke-width="0">R100</text><line x1="440.5" y1="41.75" x2="457.5" y2="41.75" stroke="#2446ee" stroke-width="1.4" stroke-opacity="0.7" stroke-dasharray="3 2"/><path d="M449 39.54L451.21 41.75L449 43.96L446.79 41.75Z" fill="#fff" stroke="#2446ee" stroke-width="1"/><text transform="matrix(1,0.002,0.004,1.1,460,42.5)" dominant-baseline="central" font-size="7.2" fill="#333" stroke="#333" stroke-width="0">RF20</text><line x1="440.5" y1="50.4" x2="457.5" y2="50.4" stroke="#10c4f4" stroke-width="1.4" stroke-opacity="0.7" stroke-dasharray="3 2"/><circle cx="449" cy="50.4" r="1.78" fill="#fff" stroke="#10c4f4" stroke-width="1"/><text transform="matrix(1,0.002,0.004,1.1,460,51.15)" dominant-baseline="central" font-size="7.2" fill="#333" stroke="#333" stroke-width="0">RS10</text><line x1="440.5" y1="59.05" x2="457.5" y2="59.05" stroke="#111" stroke-width="1.4" stroke-opacity="0.7" stroke-dasharray="3.5 1.5 1 1.5"/><rect x="447.3" y="57.35" width="3.4" height="3.4" fill="#fff" stroke="#5aa0d0" stroke-width="1"/><path d="M449.9 57.95H448.1V59.05H449.9V60.15H448.1" stroke="#333" stroke-width="0.7" fill="none"/><text transform="matrix(1,0.002,0.004,1.1,460,59.8)" dominant-baseline="central" font-size="7.2" fill="#333" stroke="#333" stroke-width="0">RF20S10</text><line x1="489.3" y1="15.8" x2="506.4" y2="15.8" stroke="#3a8ad2" stroke-width="1.4" stroke-opacity="0.7"/><path d="M495.98 13.93L499.72 17.67M499.72 13.93L495.98 17.67M497.85 13.93V17.67" stroke="#3a8ad2" stroke-width="1.1" fill="none"/><text transform="matrix(1,0.002,0.004,1.1,508.9,16.55)" dominant-baseline="central" font-size="7.2" fill="#333" stroke="#333" stroke-width="0">R25</text><line x1="489.3" y1="24.45" x2="506.4" y2="24.45" stroke="#ffc000" stroke-width="1.4" stroke-opacity="0.7"/><rect x="495.9" y="22.5" width="3.91" height="3.91" fill="#ffc000"/><text transform="matrix(1,0.002,0.004,1.1,508.9,25.2)" dominant-baseline="central" font-size="7.2" fill="#333" stroke="#333" stroke-width="0">R75</text><line x1="489.3" y1="33.1" x2="506.4" y2="33.1" stroke="#2eb04a" stroke-width="1.4" stroke-opacity="0.7" stroke-dasharray="3 2"/><path d="M495.81 33.1H499.89M497.85 31.06V35.14" stroke="#2eb04a" stroke-width="1.1" fill="none"/><text transform="matrix(1,0.002,0.004,1.1,508.9,33.85)" dominant-baseline="central" font-size="7.2" fill="#333" stroke="#333" stroke-width="0">RF10</text><line x1="489.3" y1="41.75" x2="506.4" y2="41.75" stroke="#ff2a2a" stroke-width="1.4" stroke-opacity="0.7" stroke-dasharray="3 2"/><path d="M497.85 39.54L500.06 43.41L495.64 43.41Z" fill="#fff" stroke="#ff2a2a" stroke-width="1"/><text transform="matrix(1,0.002,0.004,1.1,508.9,42.5)" dominant-baseline="central" font-size="7.2" fill="#333" stroke="#333" stroke-width="0">RS5</text><line x1="489.3" y1="50.4" x2="506.4" y2="50.4" stroke="#b07d12" stroke-width="1.4" stroke-opacity="0.7" stroke-dasharray="3 2"/><path d="M497.85 48.02L500.23 50.4L497.85 52.78L495.47 50.4Z" fill="#b07d12"/><text transform="matrix(1,0.002,0.004,1.1,508.9,51.15)" dominant-baseline="central" font-size="7.2" fill="#333" stroke="#333" stroke-width="0">RF10S5</text>
<rect x="177.5" y="215" width="221.5" height="167" fill="none" stroke="#707070" stroke-width="1.4"/>
<line x1="177.5" y1="215" x2="177.5" y2="382" stroke="#333" stroke-width="1.4"/>
<polyline points="177.5,320.57 205.19,311.62 232.88,321.76 260.56,342.04 288.25,358.98 315.94,366.25 343.62,372.46 371.31,377.23 399,379.61" fill="none" stroke="#ff1a1a" stroke-width="1.0"/>
<circle cx="177.5" cy="320.57" r="1.87" fill="#ff1a1a"/>
<circle cx="205.19" cy="311.62" r="1.87" fill="#ff1a1a"/>
<circle cx="232.88" cy="321.76" r="1.87" fill="#ff1a1a"/>
<circle cx="260.56" cy="342.04" r="1.87" fill="#ff1a1a"/>
<circle cx="288.25" cy="358.98" r="1.87" fill="#ff1a1a"/>
<circle cx="315.94" cy="366.25" r="1.87" fill="#ff1a1a"/>
<circle cx="343.62" cy="372.46" r="1.87" fill="#ff1a1a"/>
<circle cx="371.31" cy="377.23" r="1.87" fill="#ff1a1a"/>
<circle cx="399" cy="379.61" r="1.87" fill="#ff1a1a"/>
<polyline points="177.5,303.39 205.19,297.9 232.88,301.84 260.56,331.9 288.25,339.65 315.94,355.76 343.62,362.91 371.31,370.07 399,376.04" fill="none" stroke="#2e78bc" stroke-width="1.0"/>
<path d="M175.63 301.52L179.37 305.26M179.37 301.52L175.63 305.26M177.5 301.52V305.26" stroke="#2e78bc" stroke-width="1.1" fill="none"/>
<path d="M203.32 296.03L207.06 299.77M207.06 296.03L203.32 299.77M205.19 296.03V299.77" stroke="#2e78bc" stroke-width="1.1" fill="none"/>
<path d="M231 299.97L234.75 303.71M234.75 299.97L231 303.71M232.88 299.97V303.71" stroke="#2e78bc" stroke-width="1.1" fill="none"/>
<path d="M258.69 330.03L262.43 333.77M262.43 330.03L258.69 333.77M260.56 330.03V333.77" stroke="#2e78bc" stroke-width="1.1" fill="none"/>
<path d="M286.38 337.78L290.12 341.52M290.12 337.78L286.38 341.52M288.25 337.78V341.52" stroke="#2e78bc" stroke-width="1.1" fill="none"/>
<path d="M314.07 353.89L317.81 357.63M317.81 353.89L314.07 357.63M315.94 353.89V357.63" stroke="#2e78bc" stroke-width="1.1" fill="none"/>
<path d="M341.75 361.04L345.5 364.78M345.5 361.04L341.75 364.78M343.62 361.04V364.78" stroke="#2e78bc" stroke-width="1.1" fill="none"/>
<path d="M369.44 368.2L373.18 371.94M373.18 368.2L369.44 371.94M371.31 368.2V371.94" stroke="#2e78bc" stroke-width="1.1" fill="none"/>
<path d="M397.13 374.17L400.87 377.91M400.87 374.17L397.13 377.91M399 374.17V377.91" stroke="#2e78bc" stroke-width="1.1" fill="none"/>
<polyline points="177.5,292.65 205.19,284.19 232.88,290.75 260.56,309.71 288.25,340.01 315.94,354.68 343.62,361.72 371.31,366.49 399,373.65" fill="none" stroke="#3c8c3c" stroke-width="1.0"/>
<path d="M177.5 290.95L179.2 292.65L177.5 294.35L175.8 292.65Z" fill="#3c8c3c"/>
<path d="M205.19 282.49L206.89 284.19L205.19 285.89L203.49 284.19Z" fill="#3c8c3c"/>
<path d="M232.88 289.05L234.57 290.75L232.88 292.45L231.18 290.75Z" fill="#3c8c3c"/>
<path d="M260.56 308.01L262.26 309.71L260.56 311.41L258.86 309.71Z" fill="#3c8c3c"/>
<path d="M288.25 338.31L289.95 340.01L288.25 341.71L286.55 340.01Z" fill="#3c8c3c"/>
<path d="M315.94 352.98L317.64 354.68L315.94 356.38L314.24 354.68Z" fill="#3c8c3c"/>
<path d="M343.62 360.02L345.32 361.72L343.62 363.42L341.93 361.72Z" fill="#3c8c3c"/>
<path d="M371.31 364.79L373.01 366.49L371.31 368.19L369.61 366.49Z" fill="#3c8c3c"/>
<path d="M399 371.95L400.7 373.65L399 375.35L397.3 373.65Z" fill="#3c8c3c"/>
<polyline points="177.5,273.93 205.19,266.65 232.88,273.93 260.56,292.3 288.25,316.27 315.94,345.98 343.62,353.37 371.31,364.94 399,369.59" fill="none" stroke="#ffc000" stroke-width="1.0"/>
<rect x="175.54" y="271.97" width="3.91" height="3.91" fill="#ffc000"/>
<rect x="203.23" y="264.7" width="3.91" height="3.91" fill="#ffc000"/>
<rect x="230.92" y="271.97" width="3.91" height="3.91" fill="#ffc000"/>
<rect x="258.61" y="290.34" width="3.91" height="3.91" fill="#ffc000"/>
<rect x="286.3" y="314.32" width="3.91" height="3.91" fill="#ffc000"/>
<rect x="313.98" y="344.02" width="3.91" height="3.91" fill="#ffc000"/>
<rect x="341.67" y="351.42" width="3.91" height="3.91" fill="#ffc000"/>
<rect x="369.36" y="362.99" width="3.91" height="3.91" fill="#ffc000"/>
<rect x="397.05" y="367.64" width="3.91" height="3.91" fill="#ffc000"/>
<polyline points="177.5,255.2 205.19,248.4 232.88,257.94 260.56,277.39 288.25,311.5 315.94,334.52 343.62,349.91 371.31,360.29 399,366.85" fill="none" stroke="#2a52ee" stroke-width="1.0"/>
<path d="M177.5 252.82L179.88 256.98L175.12 256.98Z" fill="#2a52ee"/>
<path d="M205.19 246.02L207.57 250.18L202.81 250.18Z" fill="#2a52ee"/>
<path d="M232.88 255.56L235.25 259.73L230.5 259.73Z" fill="#2a52ee"/>
<path d="M260.56 275.01L262.94 279.17L258.18 279.17Z" fill="#2a52ee"/>
<path d="M288.25 309.12L290.63 313.29L285.87 313.29Z" fill="#2a52ee"/>
<path d="M315.94 332.14L318.32 336.31L313.56 336.31Z" fill="#2a52ee"/>
<path d="M343.62 347.53L346 351.7L341.25 351.7Z" fill="#2a52ee"/>
<path d="M371.31 357.91L373.69 362.08L368.93 362.08Z" fill="#2a52ee"/>
<path d="M399 364.47L401.38 368.64L396.62 368.64Z" fill="#2a52ee"/>
<polyline points="177.5,271.18 205.19,257.7 232.88,267.49 260.56,287.76 288.25,320.69 315.94,345.02 343.62,359.34 371.31,366.49 399,373.65" fill="none" stroke="#5cc05c" stroke-width="1.0" stroke-dasharray="3 1.5 1 1.5"/>
<path d="M175.46 271.18H179.54M177.5 269.14V273.22" stroke="#5cc05c" stroke-width="1.1" fill="none"/>
<path d="M203.15 257.7H207.23M205.19 255.66V259.74" stroke="#5cc05c" stroke-width="1.1" fill="none"/>
<path d="M230.84 267.49H234.91M232.88 265.45V269.53" stroke="#5cc05c" stroke-width="1.1" fill="none"/>
<path d="M258.52 287.76H262.6M260.56 285.72V289.8" stroke="#5cc05c" stroke-width="1.1" fill="none"/>
<path d="M286.21 320.69H290.29M288.25 318.65V322.73" stroke="#5cc05c" stroke-width="1.1" fill="none"/>
<path d="M313.9 345.02H317.98M315.94 342.98V347.06" stroke="#5cc05c" stroke-width="1.1" fill="none"/>
<path d="M341.58 359.34H345.67M343.62 357.3V361.38" stroke="#5cc05c" stroke-width="1.1" fill="none"/>
<path d="M369.27 366.49H373.35M371.31 364.45V368.53" stroke="#5cc05c" stroke-width="1.1" fill="none"/>
<path d="M396.96 373.65H401.04M399 371.61V375.69" stroke="#5cc05c" stroke-width="1.1" fill="none"/>
<polyline points="177.5,286.21 205.19,277.03 232.88,284.78 260.56,313.05 288.25,337.15 315.94,358.14 343.62,364.58 371.31,371.86 399,376.04" fill="none" stroke="#2446ee" stroke-width="1.0" stroke-dasharray="3 2"/>
<path d="M177.5 284.34L179.37 286.21L177.5 288.08L175.63 286.21Z" fill="#2446ee"/>
<path d="M205.19 275.16L207.06 277.03L205.19 278.9L203.32 277.03Z" fill="#2446ee"/>
<path d="M232.88 282.91L234.75 284.78L232.88 286.65L231 284.78Z" fill="#2446ee"/>
<path d="M260.56 311.18L262.43 313.05L260.56 314.92L258.69 313.05Z" fill="#2446ee"/>
<path d="M288.25 335.28L290.12 337.15L288.25 339.02L286.38 337.15Z" fill="#2446ee"/>
<path d="M315.94 356.27L317.81 358.14L315.94 360.01L314.07 358.14Z" fill="#2446ee"/>
<path d="M343.62 362.71L345.5 364.58L343.62 366.45L341.75 364.58Z" fill="#2446ee"/>
<path d="M371.31 369.99L373.18 371.86L371.31 373.73L369.44 371.86Z" fill="#2446ee"/>
<path d="M399 374.17L400.87 376.04L399 377.91L397.13 376.04Z" fill="#2446ee"/>
<polyline points="177.5,266.65 205.19,261.88 232.88,267.61 260.56,301.6 288.25,324.38 315.94,342.16 343.62,361.24 371.31,364.94 399,371.74" fill="none" stroke="#ff2a2a" stroke-width="1.0" stroke-dasharray="3 1.5 1 1.5"/>
<path d="M177.5 264.44L179.71 268.31L175.29 268.31Z" fill="#fff" stroke="#ff2a2a" stroke-width="1"/>
<path d="M205.19 259.67L207.4 263.54L202.98 263.54Z" fill="#fff" stroke="#ff2a2a" stroke-width="1"/>
<path d="M232.88 265.4L235.09 269.26L230.66 269.26Z" fill="#fff" stroke="#ff2a2a" stroke-width="1"/>
<path d="M260.56 299.39L262.77 303.26L258.35 303.26Z" fill="#fff" stroke="#ff2a2a" stroke-width="1"/>
<path d="M288.25 322.18L290.46 326.04L286.04 326.04Z" fill="#fff" stroke="#ff2a2a" stroke-width="1"/>
<path d="M315.94 339.95L318.15 343.82L313.73 343.82Z" fill="#fff" stroke="#ff2a2a" stroke-width="1"/>
<path d="M343.62 359.03L345.83 362.9L341.42 362.9Z" fill="#fff" stroke="#ff2a2a" stroke-width="1"/>
<path d="M371.31 362.73L373.52 366.6L369.1 366.6Z" fill="#fff" stroke="#ff2a2a" stroke-width="1"/>
<path d="M399 369.53L401.21 373.4L396.79 373.4Z" fill="#fff" stroke="#ff2a2a" stroke-width="1"/>
<polyline points="177.5,299.69 205.19,288.96 232.88,296.11 260.56,321.16 288.25,347.05 315.94,359.69 343.62,367.92 371.31,370.67 399,374.84" fill="none" stroke="#10c4f4" stroke-width="1.0" stroke-dasharray="4 2.5"/>
<circle cx="177.5" cy="299.69" r="1.78" fill="#fff" stroke="#10c4f4" stroke-width="1"/>
<circle cx="205.19" cy="288.96" r="1.78" fill="#fff" stroke="#10c4f4" stroke-width="1"/>
<circle cx="232.88" cy="296.11" r="1.78" fill="#fff" stroke="#10c4f4" stroke-width="1"/>
<circle cx="260.56" cy="321.16" r="1.78" fill="#fff" stroke="#10c4f4" stroke-width="1"/>
<circle cx="288.25" cy="347.05" r="1.78" fill="#fff" stroke="#10c4f4" stroke-width="1"/>
<circle cx="315.94" cy="359.69" r="1.78" fill="#fff" stroke="#10c4f4" stroke-width="1"/>
<circle cx="343.62" cy="367.92" r="1.78" fill="#fff" stroke="#10c4f4" stroke-width="1"/>
<circle cx="371.31" cy="370.67" r="1.78" fill="#fff" stroke="#10c4f4" stroke-width="1"/>
<circle cx="399" cy="374.84" r="1.78" fill="#fff" stroke="#10c4f4" stroke-width="1"/>
<polyline points="177.5,309.59 205.19,291.34 232.88,306.25 260.56,332.85 288.25,353.97 315.94,364.11 343.62,369.59 371.31,374.84 399,377.23" fill="none" stroke="#9a7a20" stroke-width="1.0" stroke-dasharray="4 2 1 2"/>
<path d="M177.5 307.89L179.2 309.59L177.5 311.29L175.8 309.59Z" fill="#9a7a20"/>
<path d="M205.19 289.64L206.89 291.34L205.19 293.04L203.49 291.34Z" fill="#9a7a20"/>
<path d="M232.88 304.55L234.57 306.25L232.88 307.95L231.18 306.25Z" fill="#9a7a20"/>
<path d="M260.56 331.15L262.26 332.85L260.56 334.55L258.86 332.85Z" fill="#9a7a20"/>
<path d="M288.25 352.27L289.95 353.97L288.25 355.67L286.55 353.97Z" fill="#9a7a20"/>
<path d="M315.94 362.41L317.64 364.11L315.94 365.81L314.24 364.11Z" fill="#9a7a20"/>
<path d="M343.62 367.89L345.32 369.59L343.62 371.29L341.93 369.59Z" fill="#9a7a20"/>
<path d="M371.31 373.14L373.01 374.84L371.31 376.54L369.61 374.84Z" fill="#9a7a20"/>
<path d="M399 375.53L400.7 377.23L399 378.93L397.3 377.23Z" fill="#9a7a20"/>
<polyline points="177.5,315.92 205.19,305.66 232.88,314.01 260.56,340.13 288.25,358.98 315.94,369.36 343.62,373.29 371.31,376.04 399,378.42" fill="none" stroke="#333" stroke-width="1.0" stroke-dasharray="2.5 1.8"/>
<rect x="175.8" y="314.22" width="3.4" height="3.4" fill="#fff" stroke="#333" stroke-width="1"/><line x1="175.8" y1="315.92" x2="179.2" y2="315.92" stroke="#333" stroke-width="0.8"/>
<rect x="203.49" y="303.96" width="3.4" height="3.4" fill="#fff" stroke="#333" stroke-width="1"/><line x1="203.49" y1="305.66" x2="206.89" y2="305.66" stroke="#333" stroke-width="0.8"/>
<rect x="231.18" y="312.31" width="3.4" height="3.4" fill="#fff" stroke="#333" stroke-width="1"/><line x1="231.18" y1="314.01" x2="234.57" y2="314.01" stroke="#333" stroke-width="0.8"/>
<rect x="258.86" y="338.43" width="3.4" height="3.4" fill="#fff" stroke="#333" stroke-width="1"/><line x1="258.86" y1="340.13" x2="262.26" y2="340.13" stroke="#333" stroke-width="0.8"/>
<rect x="286.55" y="357.28" width="3.4" height="3.4" fill="#fff" stroke="#333" stroke-width="1"/><line x1="286.55" y1="358.98" x2="289.95" y2="358.98" stroke="#333" stroke-width="0.8"/>
<rect x="314.24" y="367.66" width="3.4" height="3.4" fill="#fff" stroke="#333" stroke-width="1"/><line x1="314.24" y1="369.36" x2="317.64" y2="369.36" stroke="#333" stroke-width="0.8"/>
<rect x="341.93" y="371.59" width="3.4" height="3.4" fill="#fff" stroke="#333" stroke-width="1"/><line x1="341.93" y1="373.29" x2="345.32" y2="373.29" stroke="#333" stroke-width="0.8"/>
<rect x="369.61" y="374.34" width="3.4" height="3.4" fill="#fff" stroke="#333" stroke-width="1"/><line x1="369.61" y1="376.04" x2="373.01" y2="376.04" stroke="#333" stroke-width="0.8"/>
<rect x="397.3" y="376.72" width="3.4" height="3.4" fill="#fff" stroke="#333" stroke-width="1"/><line x1="397.3" y1="378.42" x2="400.7" y2="378.42" stroke="#333" stroke-width="0.8"/>
<path d="M177.5 382h3M177.5 358.14h3M177.5 334.29h3M177.5 310.43h3M177.5 286.57h3M177.5 262.71h3M177.5 238.86h3M177.5 215h3M177.5 382v-3M205.19 382v-3M232.88 382v-3M260.56 382v-3M288.25 382v-3M315.94 382v-3M343.62 382v-3M371.31 382v-3M399 382v-3" stroke="#707070" stroke-width="1" fill="none"/>
<g font-size="8.1" fill="#333" stroke="#333" stroke-width="0.15"><text transform="matrix(1,0.002,0.004,1.1,168.7,382)" text-anchor="end" dominant-baseline="central">0.0</text><text transform="matrix(1,0.002,0.004,1.1,168.7,358.14)" text-anchor="end" dominant-baseline="central">0.2</text><text transform="matrix(1,0.002,0.004,1.1,168.7,334.29)" text-anchor="end" dominant-baseline="central">0.4</text><text transform="matrix(1,0.002,0.004,1.1,168.7,310.43)" text-anchor="end" dominant-baseline="central">0.6</text><text transform="matrix(1,0.002,0.004,1.1,168.7,286.57)" text-anchor="end" dominant-baseline="central">0.8</text><text transform="matrix(1,0.002,0.004,1.1,168.7,262.71)" text-anchor="end" dominant-baseline="central">1.0</text><text transform="matrix(1,0.002,0.004,1.1,168.7,238.86)" text-anchor="end" dominant-baseline="central">1.2</text><text transform="matrix(1,0.002,0.004,1.1,168.7,215)" text-anchor="end" dominant-baseline="central">1.4</text><text transform="matrix(1,0.002,0.004,1.1,177.5,391.6)" text-anchor="middle" dominant-baseline="central">0</text><text transform="matrix(1,0.002,0.004,1.1,205.19,391.6)" text-anchor="middle" dominant-baseline="central">3</text><text transform="matrix(1,0.002,0.004,1.1,232.88,391.6)" text-anchor="middle" dominant-baseline="central">6</text><text transform="matrix(1,0.002,0.004,1.1,260.56,391.6)" text-anchor="middle" dominant-baseline="central">9</text><text transform="matrix(1,0.002,0.004,1.1,288.25,391.6)" text-anchor="middle" dominant-baseline="central">12</text><text transform="matrix(1,0.002,0.004,1.1,315.94,391.6)" text-anchor="middle" dominant-baseline="central">15</text><text transform="matrix(1,0.002,0.004,1.1,343.62,391.6)" text-anchor="middle" dominant-baseline="central">18</text><text transform="matrix(1,0.002,0.004,1.1,371.31,391.6)" text-anchor="middle" dominant-baseline="central">21</text><text transform="matrix(1,0.002,0.004,1.1,399,391.6)" text-anchor="middle" dominant-baseline="central">24</text></g>
<text transform="translate(155,298.7) rotate(-90) skewX(0.25)" text-anchor="middle" font-size="9.17" fill="#333" stroke="#333" stroke-width="0.12">Free Chloride Content (% by weight)</text>
<text transform="matrix(1,0.002,0.004,1,288,408.1)" text-anchor="middle" font-size="9.0" fill="#222" stroke="#222" stroke-width="0.2">Distance from exposed surface (mm)</text>
<text transform="matrix(1,0.002,0.004,1,275.8,425.5)" text-anchor="middle" font-size="11.3" fill="#111" stroke="#111" stroke-width="0.28">(c)</text>
<line x1="231.8" y1="232.5" x2="231.8" y2="382" stroke="#777" stroke-width="0.9" stroke-dasharray="1 1.5"/>
<path d="M182.5 241.5H225.8M237.8 241.5H394" stroke="#8fa8f0" stroke-width="1.1" fill="none"/>
<path d="M178 241.5l5 -2.5v5ZM230.8 241.5l-5 -2.5v5ZM232.8 241.5l5 -2.5v5ZM398.5 241.5l-5 -2.5v5Z" fill="#1a3ce0"/>
<g font-size="9.0" fill="#222" stroke="#222" stroke-width="0.12" text-anchor="middle"><text transform="matrix(1,0.002,0.004,1,201.4,225.3)">Convective</text><text transform="matrix(1,0.002,0.004,1,203.6,235.9)">zone</text><text transform="matrix(1,0.002,0.004,1,273.9,235.9)">Diffuse zone</text></g>
<line x1="282.2" y1="247.2" x2="305.8" y2="247.2" stroke="#ff1a1a" stroke-width="1.0" stroke-opacity="1"/><circle cx="294" cy="247.2" r="2.09" fill="#ff1a1a"/><text transform="matrix(1,0.002,0.004,1.1,308.3,247.95)" dominant-baseline="central" font-size="8.2" fill="#333" stroke="#333" stroke-width="0.06">R0</text><line x1="282.2" y1="256.9" x2="305.8" y2="256.9" stroke="#3c8c3c" stroke-width="1.0" stroke-opacity="1"/><path d="M294 255L295.9 256.9L294 258.8L292.1 256.9Z" fill="#3c8c3c"/><text transform="matrix(1,0.002,0.004,1.1,308.3,257.65)" dominant-baseline="central" font-size="8.2" fill="#333" stroke="#333" stroke-width="0.06">R50</text><line x1="282.2" y1="266.6" x2="305.8" y2="266.6" stroke="#2a52ee" stroke-width="1.0" stroke-opacity="1"/><path d="M294 263.94L296.66 268.59L291.34 268.59Z" fill="#2a52ee"/><text transform="matrix(1,0.002,0.004,1.1,308.3,267.35)" dominant-baseline="central" font-size="8.2" fill="#333" stroke="#333" stroke-width="0.06">R100</text><line x1="282.2" y1="276.3" x2="305.8" y2="276.3" stroke="#2446ee" stroke-width="1.0" stroke-opacity="1" stroke-dasharray="3 2"/><path d="M294 274.21L296.09 276.3L294 278.39L291.91 276.3Z" fill="#2446ee"/><text transform="matrix(1,0.002,0.004,1.1,308.3,277.05)" dominant-baseline="central" font-size="8.2" fill="#333" stroke="#333" stroke-width="0.06">RF20</text><line x1="282.2" y1="286" x2="305.8" y2="286" stroke="#10c4f4" stroke-width="1.0" stroke-opacity="1" stroke-dasharray="4 2.5"/><circle cx="294" cy="286" r="1.99" fill="#fff" stroke="#10c4f4" stroke-width="1"/><text transform="matrix(1,0.002,0.004,1.1,308.3,286.75)" dominant-baseline="central" font-size="8.2" fill="#333" stroke="#333" stroke-width="0.06">RS10</text><line x1="282.2" y1="295.7" x2="305.8" y2="295.7" stroke="#333" stroke-width="1.0" stroke-opacity="1" stroke-dasharray="2.5 1.8"/><rect x="292.1" y="293.8" width="3.8" height="3.8" fill="#fff" stroke="#333" stroke-width="1"/><line x1="292.1" y1="295.7" x2="295.9" y2="295.7" stroke="#333" stroke-width="0.8"/><text transform="matrix(1,0.002,0.004,1.1,308.3,296.45)" dominant-baseline="central" font-size="8.2" fill="#333" stroke="#333" stroke-width="0.06">RF20S10</text><line x1="345" y1="247.2" x2="368.4" y2="247.2" stroke="#2e78bc" stroke-width="1.0" stroke-opacity="1"/><path d="M354.61 245.11L358.79 249.29M358.79 245.11L354.61 249.29M356.7 245.11V249.29" stroke="#2e78bc" stroke-width="1.1" fill="none"/><text transform="matrix(1,0.002,0.004,1.1,370.9,247.95)" dominant-baseline="central" font-size="8.2" fill="#333" stroke="#333" stroke-width="0.06">R25</text><line x1="345" y1="256.9" x2="368.4" y2="256.9" stroke="#ffc000" stroke-width="1.0" stroke-opacity="1"/><rect x="354.51" y="254.71" width="4.37" height="4.37" fill="#ffc000"/><text transform="matrix(1,0.002,0.004,1.1,370.9,257.65)" dominant-baseline="central" font-size="8.2" fill="#333" stroke="#333" stroke-width="0.06">R75</text><line x1="345" y1="266.6" x2="368.4" y2="266.6" stroke="#5cc05c" stroke-width="1.0" stroke-opacity="1" stroke-dasharray="3 1.5 1 1.5"/><path d="M354.42 266.6H358.98M356.7 264.32V268.88" stroke="#5cc05c" stroke-width="1.1" fill="none"/><text transform="matrix(1,0.002,0.004,1.1,370.9,267.35)" dominant-baseline="central" font-size="8.2" fill="#333" stroke="#333" stroke-width="0.06">RF10</text><line x1="345" y1="276.3" x2="368.4" y2="276.3" stroke="#ff2a2a" stroke-width="1.0" stroke-opacity="1" stroke-dasharray="3 1.5 1 1.5"/><path d="M356.7 273.83L359.17 278.15L354.23 278.15Z" fill="#fff" stroke="#ff2a2a" stroke-width="1"/><text transform="matrix(1,0.002,0.004,1.1,370.9,277.05)" dominant-baseline="central" font-size="8.2" fill="#333" stroke="#333" stroke-width="0.06">RS5</text><line x1="345" y1="286" x2="368.4" y2="286" stroke="#9a7a20" stroke-width="1.0" stroke-opacity="1" stroke-dasharray="4 2 1 2"/><path d="M356.7 284.1L358.6 286L356.7 287.9L354.8 286Z" fill="#9a7a20"/><text transform="matrix(1,0.002,0.004,1.1,370.9,286.75)" dominant-baseline="central" font-size="8.2" fill="#333" stroke="#333" stroke-width="0.06">RF10S5</text>
</svg>
</body></html>
